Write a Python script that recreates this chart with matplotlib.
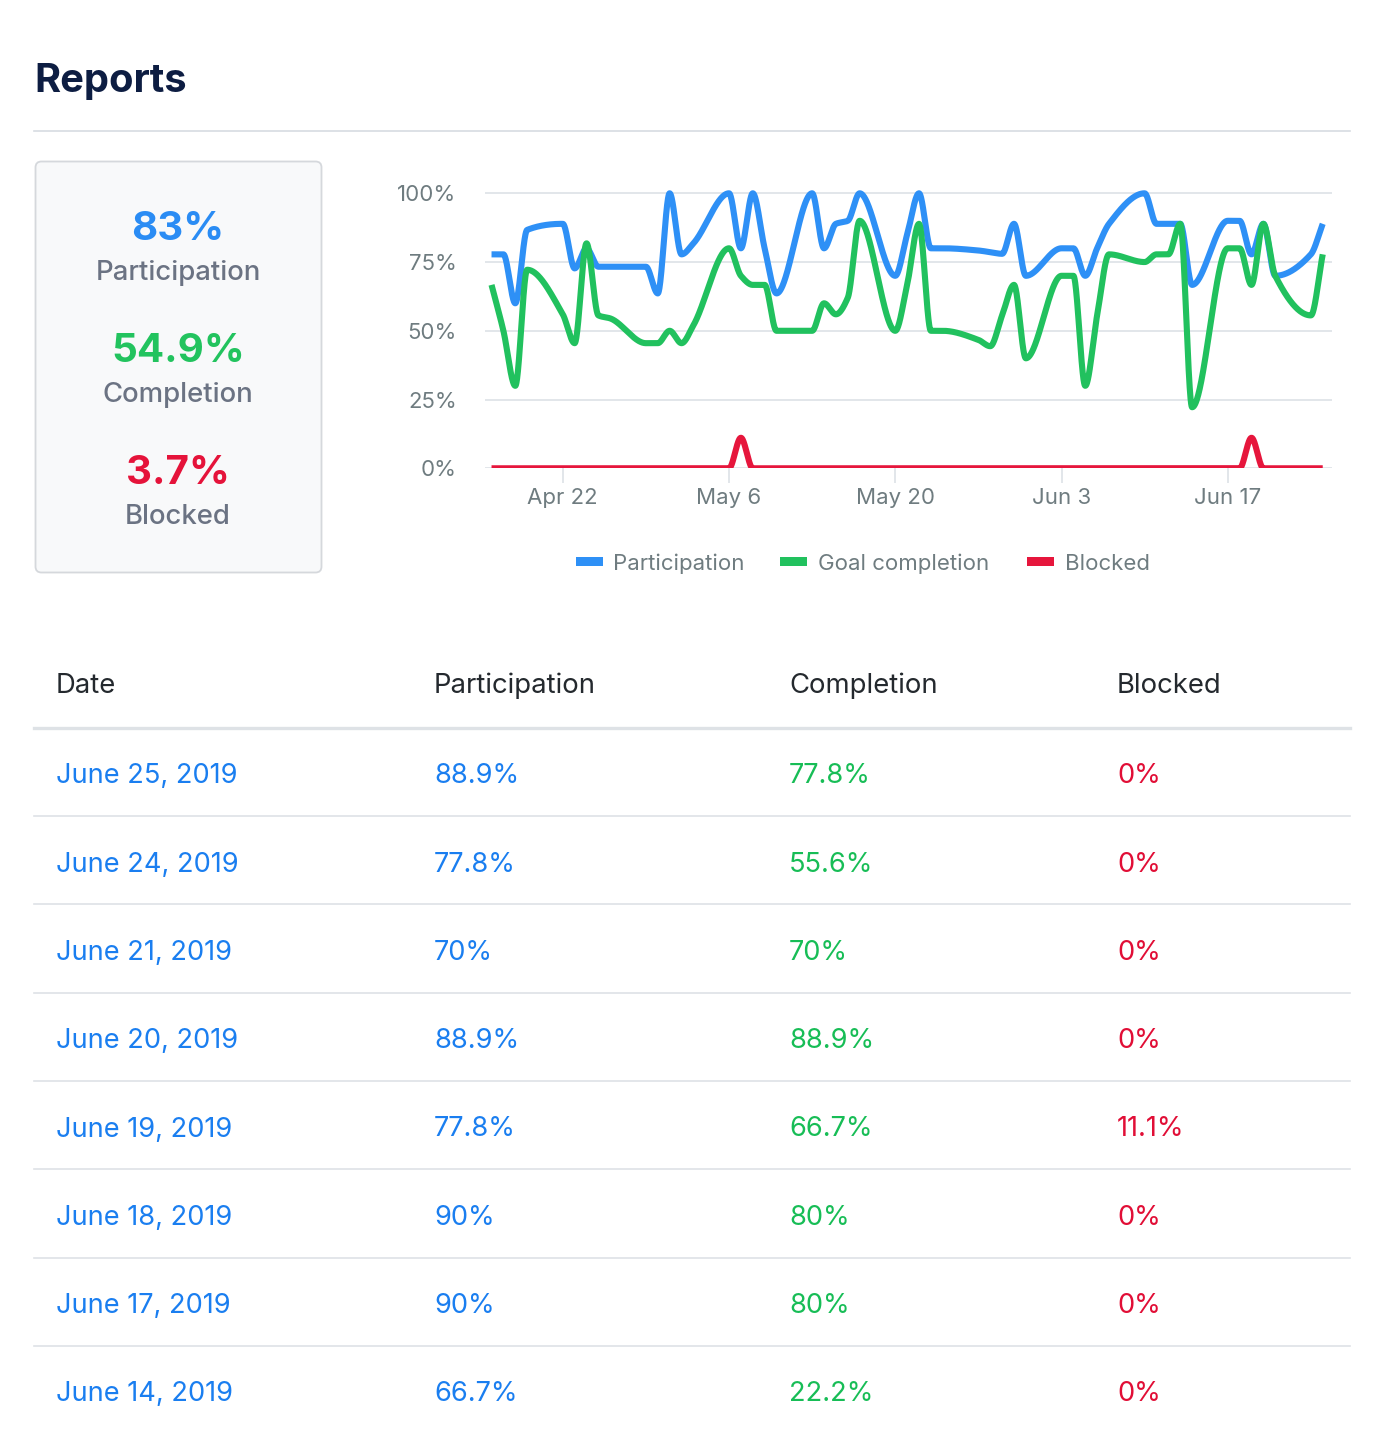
import numpy as np
import pandas as pd
import matplotlib
matplotlib.use("Agg")
import matplotlib.pyplot as plt
import matplotlib.dates as mdates
from matplotlib.patches import FancyBboxPatch, Rectangle

plt.rcParams['font.family'] = ['Inter', 'DejaVu Sans']

# daily report values (weekdays)
dates = ["2019-04-16", "2019-04-17", "2019-04-18", "2019-04-19",
         "2019-04-22", "2019-04-23", "2019-04-24", "2019-04-25", "2019-04-26",
         "2019-04-29", "2019-04-30", "2019-05-01", "2019-05-02", "2019-05-03",
         "2019-05-06", "2019-05-07", "2019-05-08", "2019-05-09", "2019-05-10",
         "2019-05-13", "2019-05-14", "2019-05-15", "2019-05-16", "2019-05-17",
         "2019-05-20", "2019-05-21", "2019-05-22", "2019-05-23", "2019-05-24",
         "2019-05-27", "2019-05-28", "2019-05-29", "2019-05-30", "2019-05-31",
         "2019-06-03", "2019-06-04", "2019-06-05", "2019-06-06", "2019-06-07",
         "2019-06-10", "2019-06-11", "2019-06-12", "2019-06-13", "2019-06-14",
         "2019-06-17", "2019-06-18", "2019-06-19", "2019-06-20", "2019-06-21",
         "2019-06-24", "2019-06-25"]

participation = [77.8, 77.8, 60.0, 86.7,
                 88.9, 72.7, 80.0, 73.3, 73.3,
                 73.3, 63.6, 100, 77.8, 81.8,
                 100, 80.0, 100, 80.0, 63.6,
                 100, 80.0, 88.9, 90.0, 100,
                 70.0, 85.0, 100, 80.0, 80.0,
                 79.2, 78.6, 78.0, 88.9, 70.0,
                 80.0, 80.0, 70.0, 80.0, 88.9,
                 100, 88.9, 88.9, 88.9, 66.7,
                 90.0, 90.0, 77.8, 88.9, 70.0,
                 77.8, 88.9]

completion = [66.7, 50.0, 30.0, 72.2,
              56.0, 45.5, 81.8, 55.6, 54.5,
              45.5, 45.5, 50.0, 45.5, 52.0,
              80.0, 70.0, 66.7, 66.7, 50.0,
              50.0, 60.0, 56.0, 62.0, 90.0,
              50.0, 66.7, 88.9, 50.0, 50.0,
              46.7, 44.4, 55.6, 66.7, 40.0,
              70.0, 70.0, 30.0, 55.6, 77.8,
              75.0, 77.8, 77.8, 88.9, 22.2,
              80.0, 80.0, 66.7, 88.9, 70.0,
              55.6, 77.8]

blocked = [0, 0, 0, 0,
           0, 0, 0, 0, 0,
           0, 0, 0, 0, 0,
           0, 11.1, 0, 0, 0,
           0, 0, 0, 0, 0,
           0, 0, 0, 0, 0,
           0, 0, 0, 0, 0,
           0, 0, 0, 0, 0,
           0, 0, 0, 0, 0,
           0, 0, 11.1, 0, 0,
           0, 0]

tick_dates = ["2019-04-22", "2019-05-06", "2019-05-20", "2019-06-03", "2019-06-17"]
tick_labels = ["Apr 22", "May 6", "May 20", "Jun 3", "Jun 17"]

summary_values = ["83%", "54.9%", "3.7%"]
summary_labels = ["Participation", "Completion", "Blocked"]

table_header = ["Date", "Participation", "Completion", "Blocked"]
table_dates = ["June 25, 2019", "June 24, 2019", "June 21, 2019", "June 20, 2019",
               "June 19, 2019", "June 18, 2019", "June 17, 2019", "June 14, 2019"]
table_part = ["88.9%", "77.8%", "70%", "88.9%", "77.8%", "90%", "90%", "66.7%"]
table_comp = ["77.8%", "55.6%", "70%", "88.9%", "66.7%", "80%", "80%", "22.2%"]
table_block = ["0%", "0%", "0%", "0%", "11.1%", "0%", "0%", "0%"]

BLUE = "#2e90f6"
GREEN = "#21c15e"
RED = "#e6163c"
TXT_BLUE = "#1a7ef0"
TXT_GREEN = "#17bd56"
TXT_RED = "#e10e36"
GRID = "#dde2e6"
TICK = "#6f7c80"


def monotone(x, y, xs):
    # monotone cubic (Fritsch-Carlson) like the chart's smoothing
    x = np.asarray(x, float)
    y = np.asarray(y, float)
    h = np.diff(x)
    d = np.diff(y) / h
    m = np.zeros_like(y)
    m[0] = d[0]
    m[-1] = d[-1]
    for k in range(1, len(y) - 1):
        if d[k - 1] * d[k] > 0:
            w1 = 2 * h[k] + h[k - 1]
            w2 = h[k] + 2 * h[k - 1]
            m[k] = (w1 + w2) / (w1 / d[k - 1] + w2 / d[k])
    i = np.clip(np.searchsorted(x, xs) - 1, 0, len(x) - 2)
    t = (xs - x[i]) / h[i]
    h00 = 2 * t**3 - 3 * t**2 + 1
    h10 = t**3 - 2 * t**2 + t
    h01 = -2 * t**3 + 3 * t**2
    h11 = t**3 - t**2
    return h00 * y[i] + h10 * h[i] * m[i] + h01 * y[i + 1] + h11 * h[i] * m[i + 1]


W, H = 1400, 1432
fig = plt.figure(figsize=(W / 100, H / 100), dpi=100)

# page layer in pixel coordinates
bg = fig.add_axes([0, 0, 1, 1])
bg.set_xlim(0, W)
bg.set_ylim(H, 0)
bg.axis("off")

bg.text(34, 92, "Reports", fontsize=28.7, fontweight="bold", color="#0d1d42", va="baseline")
bg.plot([34, 1350], [130.5, 130.5], color="#d7dce1", lw=1.2)

box = FancyBboxPatch((35.5, 161.5), 286, 411, boxstyle="round,pad=0,rounding_size=6",
                     facecolor="#f8f9fa", edgecolor="#d5d8dc", lw=1.3)
bg.add_patch(box)
sum_colors = ["#2a8cf4", "#22c35e", "#e5133a"]
sum_base = [240, 362, 484]
for val, lab, col, yb in zip(summary_values, summary_labels, sum_colors, sum_base):
    bg.text(178, yb, val, fontsize=29, fontweight="bold", color=col, ha="center", va="baseline")
    bg.text(178, yb + 40.5, lab, fontsize=19.8, fontweight="medium", color="#6b7383",
            ha="center", va="baseline")

# legend under the chart
leg = [("Participation", BLUE, 576, 613), ("Goal completion", GREEN, 780, 818),
       ("Blocked", RED, 1027, 1065)]
for name, col, xs_, xt in leg:
    bg.add_patch(Rectangle((xs_, 557), 27, 8.5, facecolor=col, edgecolor="none"))
    bg.text(xt, 569.5, name, fontsize=16, color=TICK, va="baseline")

# table
col_x = [56, 434, 789, 1117]
for x, s in zip(col_x, table_header):
    bg.text(x, 693, s, fontsize=19.8, color="#24292e", va="baseline")
bg.plot([34, 1350], [728.3, 728.3], color="#dee2e6", lw=2.4)
row_pitch = 88.3
for r in range(len(table_dates)):
    yb = 783.3 + r * row_pitch
    bg.text(col_x[0], yb, table_dates[r], fontsize=19.6, color=TXT_BLUE, va="baseline")
    bg.text(col_x[1], yb, table_part[r], fontsize=19.6, color=TXT_BLUE, va="baseline")
    bg.text(col_x[2], yb, table_comp[r], fontsize=19.6, color=TXT_GREEN, va="baseline")
    bg.text(col_x[3], yb, table_block[r], fontsize=19.6, color=TXT_RED, va="baseline")
    ysep = 816 + r * row_pitch
    if ysep < H:
        bg.plot([34, 1350], [ysep, ysep], color="#dee2e6", lw=1.2)

# chart
ax = fig.add_axes([485 / W, 1 - 468.3 / H, (1332 - 485) / W, (468.3 - 185.05) / H])
ax.set_facecolor("none")
x = mdates.date2num(pd.to_datetime(dates))
xs = np.linspace(x[0], x[-1], 4000)
ax.plot(xs, monotone(x, participation, xs), color=BLUE, lw=4.4, solid_capstyle="butt", zorder=3)
ax.plot(xs, monotone(x, completion, xs), color=GREEN, lw=4.4, solid_capstyle="butt", zorder=4)
ax.plot(xs, monotone(x, blocked, xs), color=RED, lw=4.4, solid_capstyle="butt", zorder=5)

ax.set_xlim(x[0] - 0.55, x[-1] + 0.78)
ax.set_ylim(0, 103)
ax.set_yticks([0, 25, 50, 75, 100])
ax.set_yticklabels(["0%", "25%", "50%", "75%", "100%"])
ax.set_xticks(mdates.date2num(pd.to_datetime(tick_dates)))
ax.set_xticklabels(tick_labels)
ax.grid(axis="y", color=GRID, lw=1.2)
ax.set_axisbelow(True)
for sp in ax.spines.values():
    sp.set_visible(False)
ax.tick_params(axis="y", length=0, pad=20.4, labelsize=16, labelcolor=TICK)
ax.tick_params(axis="x", length=11, width=1.2, color=GRID, pad=3, labelsize=16, labelcolor=TICK)

fig.savefig("out.png", dpi=100)
